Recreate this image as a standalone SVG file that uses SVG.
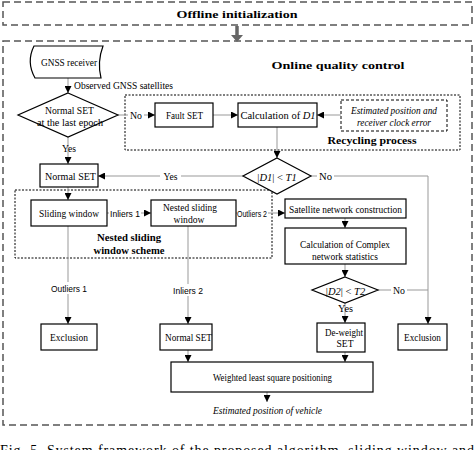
<svg xmlns="http://www.w3.org/2000/svg" width="474" height="450" viewBox="0 0 474 450">
<defs>
<marker id="ah" viewBox="0 0 8 8" refX="8" refY="4" markerWidth="7" markerHeight="7" markerUnits="userSpaceOnUse" orient="auto">
<path d="M0,0 L8,4 L0,8 Z" fill="#000"/>
</marker>
<style>
.t{font-family:"Liberation Serif","Times New Roman",Times,serif;font-size:10.5px;fill:#000;text-anchor:middle;dominant-baseline:central}
.s{font-family:"Liberation Sans",Arial,sans-serif;font-size:9.5px;fill:#000;text-anchor:middle;dominant-baseline:central}
.b{font-weight:bold}
.i{font-style:italic}
.box{fill:#fff;stroke:#000;stroke-width:1.2}
.c{fill:none;stroke:#999;stroke-width:1;marker-end:url(#ah)}
.cn{fill:none;stroke:#999;stroke-width:1}
.big{fill:none;stroke:#555;stroke-width:1.5;stroke-dasharray:7,4}
.dot{fill:none;stroke:#000;stroke-width:1;stroke-dasharray:2,1.5}
.lb{fill:#fff}
</style>
</defs>
<rect width="474" height="450" fill="#fff"/>

<g id="offline">
<rect class="big" x="3" y="2" width="469" height="23"/>
<text class="t b" x="237" y="14" font-size="15" textLength="121" lengthAdjust="spacingAndGlyphs">Offline initialization</text>
</g>
<g id="online-frame">
<rect class="big" x="3" y="41" width="469" height="384"/>
<text class="t b" x="338" y="65" font-size="15" textLength="133" lengthAdjust="spacingAndGlyphs">Online quality control</text>
</g>
<g id="recycling">
<rect class="dot" x="125" y="95" width="335" height="55"/>
<text class="t b" x="372" y="140" font-size="12" textLength="89" lengthAdjust="spacingAndGlyphs">Recycling process</text>
</g>
<g id="nested-scheme">
<rect class="dot" x="15" y="190" width="257" height="68"/>
<text class="t b" x="129" y="237" font-size="12" textLength="64" lengthAdjust="spacingAndGlyphs">Nested sliding</text>
<text class="t b" x="129" y="250" font-size="12" textLength="71" lengthAdjust="spacingAndGlyphs">window scheme</text>
</g>

<g id="connectors">
<path d="M237,26 V38" stroke="#666" stroke-width="3.5" fill="none"/>
<path d="M231,35 L243,35 L237,42 Z" fill="#666"/>
<path class="c" d="M68,78 V93"/>
<path class="c" d="M118,115 H155"/>
<path class="c" d="M213,115 H238"/>
<path class="c" d="M341,115 H317"/>
<path class="c" d="M277,127 V158"/>
<path class="c" d="M68,137 V164"/>
<path class="c" d="M243,176 H98"/>
<path class="c" d="M311,176 H428 V324"/>
<path class="c" d="M68,187 V200"/>
<path class="c" d="M107,213 H151"/>
<path class="c" d="M236,213 H285"/>
<path class="c" d="M345,218 V228"/>
<path class="c" d="M345,264 V277"/>
<path class="cn" d="M378,290 H428"/>
<path class="c" d="M345,303 V323"/>
<path class="c" d="M68,226 V324"/>
<path class="c" d="M188,226 V324"/>
<path class="c" d="M188,350 V362"/>
<path class="c" d="M345,352 V362"/>
<path class="c" d="M267,392 V402"/>
<text class="t" x="74" y="85" style="text-anchor:start" textLength="99" lengthAdjust="spacingAndGlyphs">Observed GNSS satellites</text>
<rect class="lb" x="128" y="109" width="16" height="12"/>
<text class="t" x="136" y="115" textLength="12" lengthAdjust="spacingAndGlyphs">No</text>
<text class="t" x="69" y="148" textLength="14" lengthAdjust="spacingAndGlyphs">Yes</text>
<rect class="lb" x="160" y="170" width="21" height="12"/>
<text class="t" x="170.5" y="176" textLength="14" lengthAdjust="spacingAndGlyphs">Yes</text>
<rect class="lb" x="317" y="170" width="17" height="12"/>
<text class="t" x="325.5" y="176" textLength="13" lengthAdjust="spacingAndGlyphs">No</text>
<rect class="lb" x="109" y="207" width="32" height="12"/>
<text class="s" x="125" y="213" textLength="30" lengthAdjust="spacingAndGlyphs">Inliers 1</text>
<rect class="lb" x="237" y="207" width="31" height="12"/>
<text class="s" x="252" y="213" textLength="30" lengthAdjust="spacingAndGlyphs">Outliers 2</text>
<rect class="lb" x="49" y="282" width="40" height="12"/>
<text class="s" x="69" y="288" textLength="36" lengthAdjust="spacingAndGlyphs">Outliers 1</text>
<rect class="lb" x="171" y="284" width="34" height="12"/>
<text class="s" x="188" y="290" textLength="30" lengthAdjust="spacingAndGlyphs">Inliers 2</text>
<rect class="lb" x="391" y="284" width="16" height="12"/>
<text class="t" x="399" y="290" textLength="12" lengthAdjust="spacingAndGlyphs">No</text>
<text class="t" x="345.5" y="308" textLength="15" lengthAdjust="spacingAndGlyphs">Yes</text>
</g>

<g id="gnss">
<path class="box" d="M34,46 H103 Q97,62 101,78 H35 Q26,62 34,46 Z"/>
<text class="t" x="69" y="62" textLength="56" lengthAdjust="spacingAndGlyphs">GNSS receiver</text>
</g>
<g id="dec1">
<path class="box" d="M68,93 L118,115 L68,137 L18,115 Z"/>
<text class="t" x="69.5" y="110" textLength="49" lengthAdjust="spacingAndGlyphs">Normal SET</text>
<text class="t" x="70" y="122" textLength="66" lengthAdjust="spacingAndGlyphs">at the last epoch</text>
</g>
<g id="fault">
<rect class="box" x="155" y="103" width="58" height="24"/>
<text class="t" x="184.5" y="115" textLength="37" lengthAdjust="spacingAndGlyphs">Fault SET</text>
</g>
<g id="calcd1">
<rect class="box" x="238" y="103" width="79" height="24"/>
<text class="t" x="278" y="115" font-size="10">Calculation of <tspan font-style="italic">D1</tspan></text>
</g>
<g id="estpos">
<rect x="341" y="100" width="106" height="31" fill="#fff" stroke="#000" stroke-width="1" stroke-dasharray="3,2"/>
<text class="t i" x="394" y="110" textLength="86" lengthAdjust="spacingAndGlyphs">Estimated position and</text>
<text class="t i" x="394" y="122" textLength="74" lengthAdjust="spacingAndGlyphs">receiver clock error</text>
</g>
<g id="dec2">
<path class="box" d="M277,158 L311,176 L277,194 L243,176 Z"/>
<text class="t" x="277" y="177" font-size="10">|<tspan font-style="italic">D1</tspan>| &lt; <tspan font-style="italic">T1</tspan></text>
</g>
<g id="normal1">
<rect class="box" x="40" y="164" width="58" height="23"/>
<text class="t" x="70.5" y="176" textLength="51" lengthAdjust="spacingAndGlyphs">Normal SET</text>
</g>
<g id="sliding">
<rect class="box" x="31" y="200" width="76" height="26"/>
<text class="t" x="69" y="213" textLength="60" lengthAdjust="spacingAndGlyphs">Sliding window</text>
</g>
<g id="nested">
<rect class="box" x="151" y="200" width="85" height="26"/>
<text class="t" x="190" y="207" textLength="54" lengthAdjust="spacingAndGlyphs">Nested sliding</text>
<text class="t" x="189" y="219" textLength="31" lengthAdjust="spacingAndGlyphs">window</text>
</g>
<g id="satnet">
<rect class="box" x="285" y="199" width="121" height="19"/>
<text class="t" x="345.5" y="209" textLength="113" lengthAdjust="spacingAndGlyphs">Satellite network construction</text>
</g>
<g id="complex">
<rect class="box" x="285" y="228" width="121" height="36"/>
<text class="t" x="345" y="244" textLength="90" lengthAdjust="spacingAndGlyphs">Calculation of Complex</text>
<text class="t" x="345" y="256" textLength="66" lengthAdjust="spacingAndGlyphs">network statistics</text>
</g>
<g id="dec3">
<path class="box" d="M345,277 L378,290 L345,303 L312,290 Z"/>
<text class="t" x="345.5" y="291" font-size="10">|<tspan font-style="italic">D2</tspan>| &lt; <tspan font-style="italic">T2</tspan></text>
</g>
<g id="excl1">
<rect class="box" x="41" y="324" width="56" height="26"/>
<text class="t" x="69" y="337" textLength="38" lengthAdjust="spacingAndGlyphs">Exclusion</text>
</g>
<g id="normal2">
<rect class="box" x="160" y="324" width="52" height="26"/>
<text class="t" x="188.5" y="337" textLength="47" lengthAdjust="spacingAndGlyphs">Normal SET</text>
</g>
<g id="deweight">
<rect class="box" x="317" y="323" width="48" height="29"/>
<text class="t" x="344" y="332" textLength="38" lengthAdjust="spacingAndGlyphs">De-weight</text>
<text class="t" x="345" y="343" textLength="17" lengthAdjust="spacingAndGlyphs">SET</text>
</g>
<g id="excl2">
<rect class="box" x="398" y="324" width="49" height="26"/>
<text class="t" x="422.5" y="337" textLength="37" lengthAdjust="spacingAndGlyphs">Exclusion</text>
</g>
<g id="wls">
<rect class="box" x="171" y="362" width="202" height="30"/>
<text class="t" x="272.5" y="377" textLength="119" lengthAdjust="spacingAndGlyphs">Weighted least square positioning</text>
</g>
<g id="output">
<text class="t i" x="267.5" y="410" textLength="109" lengthAdjust="spacingAndGlyphs">Estimated position of vehicle</text>
</g>
<g id="caption">
<text x="0" y="455" font-family="'Liberation Serif','Times New Roman',serif" font-size="14" textLength="474" lengthAdjust="spacing">Fig. 5.   System framework of the proposed algorithm, sliding window and</text>
</g>
</svg>
